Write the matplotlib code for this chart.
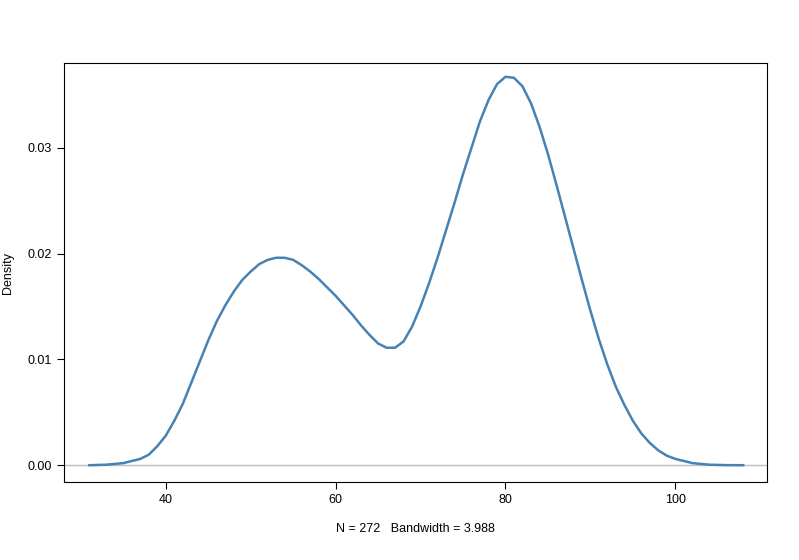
import matplotlib
matplotlib.use('Agg')
import matplotlib.pyplot as plt

plt.rcParams['font.family'] = ['Liberation Sans', 'DejaVu Sans']

# density curve
waiting = [31, 33, 35, 37, 38, 39, 40, 41, 42, 43, 44, 45, 46, 47, 48, 49, 50, 51, 52, 53, 54,
           55, 56, 57, 58, 59, 60, 61, 62, 63, 64, 65, 66, 67, 68, 69, 70, 71, 72, 73, 74, 75,
           76, 77, 78, 79, 80, 81, 82, 83, 84, 85, 86, 87, 88, 89, 90, 91, 92, 93, 94, 95, 96,
           97, 98, 99, 100, 102, 104, 106, 108]
density = [0.0, 0.00005, 0.0002, 0.0006, 0.001, 0.0018, 0.0028, 0.0042, 0.0058, 0.0078, 0.0098,
           0.0118, 0.0136, 0.0151, 0.0164, 0.0175, 0.0183, 0.0190, 0.0194, 0.0196, 0.0196,
           0.0194, 0.0189, 0.0183, 0.0176, 0.0168, 0.0160, 0.0151, 0.0142, 0.0132, 0.0123,
           0.0115, 0.0111, 0.0111, 0.0117, 0.0131, 0.0150, 0.0172, 0.0196, 0.0222, 0.0248,
           0.0275, 0.0300, 0.0325, 0.0345, 0.0360, 0.0367, 0.0366, 0.0358, 0.0342, 0.0320,
           0.0294, 0.0265, 0.0235, 0.0205, 0.0175, 0.0146, 0.0119, 0.0095, 0.0074, 0.0057,
           0.0042, 0.0030, 0.0021, 0.0014, 0.0009, 0.0006, 0.0002, 0.00005, 0.00001, 0.0]
xticks = [40, 60, 80, 100]
yticks = [0.00, 0.01, 0.02, 0.03]

fig = plt.figure(figsize=(7.99, 5.60), dpi=100)
ax = fig.add_axes([0.080, 0.139, 0.880, 0.7485])
ax.axhline(0, color='#bebebe', lw=1)
ax.plot(waiting, density, color='steelblue', lw=1.8)
ax.set_xlim(28.0, 110.8)
ax.set_ylim(-0.0016, 0.0380)
ax.set_xticks(xticks)
ax.set_yticks(yticks)
ax.set_yticklabels([f'{v:.2f}' for v in yticks])
ax.tick_params(labelsize=9, length=5)
ax.set_xlabel('N = 272   Bandwidth = 3.988', fontsize=9, labelpad=12)
ax.set_ylabel('Density', fontsize=9, labelpad=10)
for s in ax.spines.values():
    s.set_linewidth(0.8)
fig.savefig('out.png', dpi=100)
